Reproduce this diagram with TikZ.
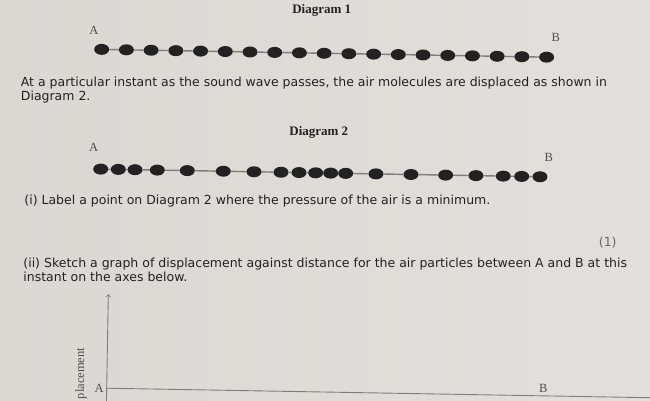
\documentclass[tikz,border=0pt]{standalone}
\usepackage{fontspec}
\setmainfont{Liberation Serif}
\newfontfamily\qfont{DejaVu Sans}
\usetikzlibrary{arrows,shapes.geometric,positioning}

\definecolor{paperleft}{RGB}{218,216,211}
\definecolor{papermid}{RGB}{234,232,227}
\definecolor{paperright}{RGB}{225,224,220}
\definecolor{ink}{RGB}{34,34,34}
\definecolor{pencil}{RGB}{78,78,78}
\definecolor{faint}{RGB}{105,105,105}
\definecolor{rod}{RGB}{125,125,125}

\begin{document}
\begin{tikzpicture}[x=1pt,y=-1pt,thick]
    \tikzstyle{molecule}=[ellipse, fill=ink, minimum width=15pt, minimum height=11pt, inner sep=0pt, outer sep=0pt]
    \tikzstyle{rodline}=[draw=rod, line width=1.4pt]
    \tikzstyle{question}=[font=\qfont\fontsize{12.5}{14}\selectfont, text=ink, inner sep=0pt, anchor=base west]
    \tikzstyle{heading}=[font=\bfseries\fontsize{13}{15}\selectfont, text=ink, inner sep=0pt, anchor=base]
    \tikzstyle{endlabel}=[font=\fontsize{12.5}{14}\selectfont, text=pencil, inner sep=0pt]
    \tikzstyle{axisline}=[draw=rod, line width=0.9pt]

    \shade[left color=paperleft, middle color=papermid, right color=paperright] (0,0) rectangle (650,400);
    \useasboundingbox (0,0) rectangle (650,400);

    % the page is photographed a little askew
    \begin{scope}[rotate around={-1:(325,200)}]
    % diagram 1: molecules evenly spaced
    \foreach \i in {1,...,19}
        \node[molecule] (r1-\i) at ({99.1+24.72*(\i-1)},53.3) {};
    \foreach \i [count=\j from 2] in {1,...,18}
        \draw[rodline] (r1-\i) -- (r1-\j);

    % diagram 2: compressions and rarefactions
    \foreach \x [count=\i] in {100.2,117.8,134.5,156.8,186.8,222.8,253.5,280.5,298.5,315.2,330.2,345.2,375.5,410.5,445.2,475.5,502.8,521.2,539.5}
        \node[molecule] (r2-\i) at (\x,173) {};
    \foreach \i [count=\j from 2] in {1,...,18}
        \draw[rodline] (r2-\i) -- (r2-\j);

    % axes for the sketch
    \coordinate (ybot) at (110,420);
    \coordinate (ytop) at (110,298);
    \coordinate (origin) at (110,392);
    \coordinate (xend) at (662,392);
    \draw[axisline,->] (ybot) -- (ytop);
    \draw[axisline] (origin) -- (xend);
    \end{scope}

    \node[heading] (title1) at (321.7,13.3) {Diagram 1};
    \node[endlabel] (a1) at (94,30) {A};
    \node[endlabel] (b1) at (555.8,37.5) {B};

    \node[question] (stem1) at (20.5,86.5) {At a particular instant as the sound wave passes, the air molecules are displaced as shown in};
    \node[question] (stem2) at (20.5,100) {Diagram 2.};

    \node[heading] (title2) at (318.8,135) {Diagram 2};
    \node[endlabel] (a2) at (93.7,147) {A};
    \node[endlabel] (b2) at (548.8,157.5) {B};

    \node[question] (part1) at (24,204.5) {(i) Label a point on Diagram 2 where the pressure of the air is a minimum.};
    \node[question, anchor=base east, text=faint] (mark1) at (617,246) {(1)};
    \node[question] (part2a) at (23,267.5) {(ii) Sketch a graph of displacement against distance for the air particles between A and B at this};
    \node[question] (part2b) at (23,281) {instant on the axes below.};

    \node[endlabel] (ga) at (99.2,388.3) {A};
    \node[endlabel] (gb) at (543.3,388.3) {B};
    \node[endlabel, rotate=90] (ylab) at (81,373.5) {placement};
\end{tikzpicture}
\end{document}
